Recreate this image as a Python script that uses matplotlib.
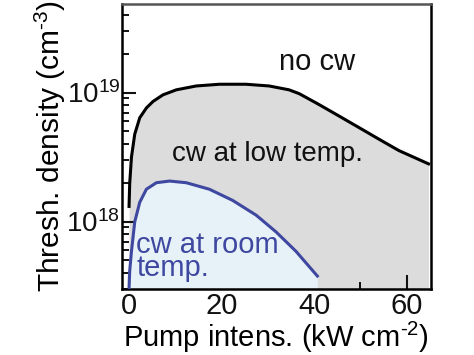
import numpy as np
import matplotlib
matplotlib.use("Agg")
import matplotlib.pyplot as plt
from matplotlib.ticker import FixedLocator, FixedFormatter, NullFormatter

plt.rcParams['font.family'] = ['Liberation Sans', 'DejaVu Sans']
plt.rcParams['mathtext.fontset'] = 'custom'
plt.rcParams['mathtext.rm'] = 'Liberation Sans'
plt.rcParams['mathtext.it'] = 'Liberation Sans'

# no-cw boundary (black): pump intensity (kW cm^-2), threshold density (cm^-3)
low_x = [0.06, 0.2, 0.58, 1.29, 2.37, 3.81, 5.23, 7.38, 10.26, 14.56, 19.6, 25.3,
         30.3, 34.6, 36.8, 41.1, 45.4, 49.7, 54.0, 58.3, 64.7]
low_y = [1.31e18, 1.97e18, 3.16e18, 4.76e18, 6.38e18, 7.6e18, 8.53e18, 9.6e18,
         1.05e19, 1.125e19, 1.16e19, 1.16e19, 1.125e19, 1.05e19, 9.8e18, 8.06e18,
         6.57e18, 5.35e18, 4.35e18, 3.55e18, 2.8e18]

# room-temperature cw boundary (blue)
room_x = [0.06, 0.2, 0.58, 1.29, 2.37, 3.8, 5.96, 8.8, 12.4, 17.4, 22.4, 27.5,
          31.8, 36.1, 40.7]
room_y = [3.0e17, 4.13e17, 5.87e17, 9.95e17, 1.41e18, 1.78e18, 2.0e18, 2.06e18,
          2.0e18, 1.78e18, 1.46e18, 1.12e18, 8.3e17, 5.87e17, 3.78e17]

xticks = [0, 20, 40, 60]
xminor = [10, 30, 50]
yticks = [1e18, 1e19]
ytick_labels = [r'$\mathregular{10^{18}}$', r'$\mathregular{10^{19}}$']

fig = plt.figure(figsize=(4.74, 3.55), dpi=100)
ax = fig.add_axes([0.257, 0.186, 0.652, 0.804])

ymin, ymax = 3.0e17, 4.9e19
ax.set_yscale('log')
ax.set_xlim(-1.5, 65.2)
ax.set_ylim(ymin, ymax)

ax.fill_between(low_x, low_y, ymin, color='#dcdcdc', lw=0, zorder=1)
ax.fill_between(room_x, room_y, ymin, color='#e6f1f8', lw=0, zorder=2)
ax.plot(low_x, low_y, color='black', lw=2.2, zorder=3, solid_joinstyle='round')
ax.plot(room_x, room_y, color='#3f48a0', lw=2.2, zorder=3, solid_joinstyle='round')

ax.text(32.5, 1.49e19, 'no cw', fontsize=21, ha='left', va='baseline', color='#111111')
ax.text(9.4, 2.96e18, 'cw at low temp.', fontsize=20, ha='left', va='baseline', color='#111111')
ax.text(1.6, 3.8e17, 'cw at room\ntemp.', fontsize=21, ha='left', va='baseline',
        color='#3f48a0', linespacing=0.78)

ax.xaxis.set_major_locator(FixedLocator(xticks))
ax.xaxis.set_minor_locator(FixedLocator(xminor))
ax.yaxis.set_major_locator(FixedLocator(yticks))
ax.yaxis.set_major_formatter(FixedFormatter(ytick_labels))
ax.yaxis.set_minor_formatter(NullFormatter())
ax.tick_params(axis='both', which='major', direction='in', length=10, width=1.5,
               labelsize=21, pad=2, colors='#111111')
ax.tick_params(axis='both', which='minor', direction='in', length=5, width=1.3)
ax.tick_params(axis='y', which='major', pad=1, labelsize=20)

for s in ax.spines.values():
    s.set_linewidth(1.8)
ax.spines['top'].set_color('#555555')

ax.set_xlabel(r'Pump intens. (kW cm$^{\text{-2}}$)', fontsize=21, labelpad=0)
ax.set_ylabel(r'Thresh. density (cm$^{\text{-3}}$)', fontsize=21.5, labelpad=-1)

fig.savefig('out.png', dpi=100)
